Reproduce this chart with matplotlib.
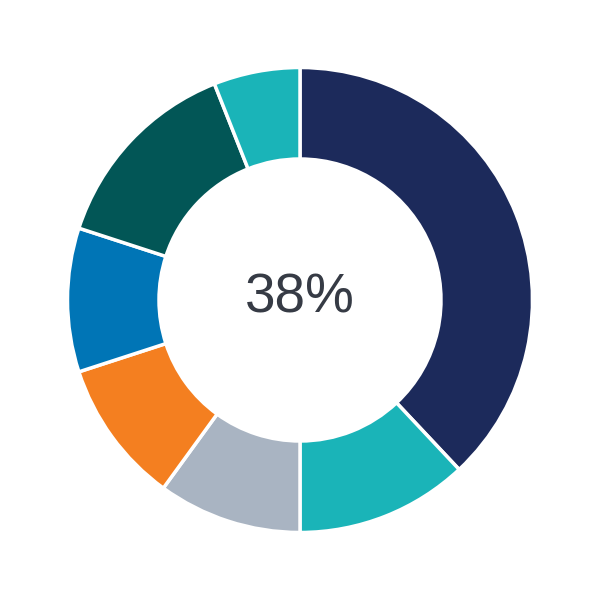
import matplotlib
matplotlib.use("Agg")
import matplotlib.pyplot as plt

# Доля сегментів (у відсотках), за годинниковою стрілкою від верху
shares = [38, 12, 10, 10, 10, 14, 6]
colors = ["#1c2a5b", "#1ab4b8", "#a9b4c2", "#f47f20", "#0075b6", "#025656", "#1ab4b8"]
center_label = "38%"

fig = plt.figure(figsize=(6, 6), dpi=100)
ax = fig.add_axes([0, 0, 1, 1])
ax.pie(shares, colors=colors, startangle=90, counterclock=False,
       radius=0.775,
       wedgeprops=dict(width=0.305, edgecolor="white", linewidth=2.5))
ax.text(0, 0.005, center_label, ha="center", va="center", fontsize=39.5,
        family="Liberation Sans", color="#363b45")
ax.set_xlim(-1, 1)
ax.set_ylim(-1, 1)
ax.set_aspect("equal")
ax.axis("off")
fig.savefig("out.png", dpi=100, facecolor="white")
